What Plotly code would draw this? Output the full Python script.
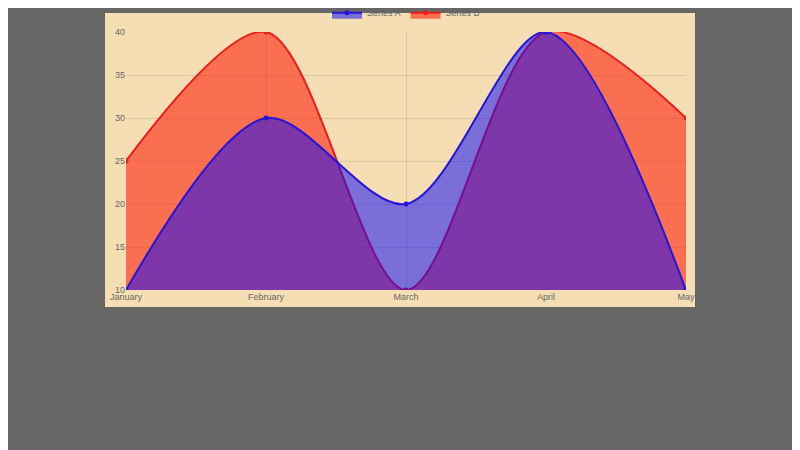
import plotly.graph_objects as go

months = ["January", "February", "March", "April", "May"]
series_a = [10, 30, 20, 40, 10]
series_b = [25, 40, 10, 40, 30]

fig = go.Figure()
fig.add_trace(go.Scatter(x=months, y=series_b, name="Series B", mode="lines+markers",
                         line=dict(color="rgb(235,30,30)", width=2, shape="spline", smoothing=0.9),
                         marker=dict(size=5, color="rgb(235,30,30)"),
                         fill="tozeroy", fillcolor="rgba(255,20,0,0.55)"))
fig.add_trace(go.Scatter(x=months, y=series_a, name="Series A", mode="lines+markers",
                         line=dict(color="rgb(40,20,215)", width=2, shape="spline", smoothing=0.9),
                         marker=dict(size=5, color="rgb(40,20,215)"),
                         fill="tozeroy", fillcolor="rgba(0,0,255,0.5)"))

OFF = 8  # page body margin
W, H = 800 - OFF, 450 - OFF
l, t = 126 - OFF, 32 - OFF
r = W - (686 - OFF)
b = H - (290 - OFF)
pw, ph = W - l - r, H - t - b
fig.add_shape(type="rect", xref="paper", yref="paper", layer="below",
              x0=(105 - 126) / pw, x1=(695 - 126) / pw, y0=(290 - 307) / ph, y1=(290 - 13) / ph,
              fillcolor="#f5deb3", line=dict(width=0))

fig.update_layout(
    width=W, height=H, margin=dict(l=l, r=r, t=t, b=b, autoexpand=False),
    paper_bgcolor="#666666", plot_bgcolor="rgba(0,0,0,0)",
    font=dict(family="Liberation Sans, Arial", size=9, color="#666"),
    showlegend=True, legend_traceorder="reversed",
    legend=dict(orientation="h", x=0.5, xanchor="center", y=1.075, yanchor="middle",
                font=dict(size=9, color="#666"), bgcolor="rgba(0,0,0,0)"),
    xaxis=dict(range=[0, 4], showgrid=True, gridcolor="rgba(0,0,0,0.1)", zeroline=False,
               ticks="", tickfont=dict(size=9, color="#666")),
    yaxis=dict(range=[10, 40], dtick=5, showgrid=True, gridcolor="rgba(0,0,0,0.1)",
               zeroline=False, tickfont=dict(size=9, color="#666")),
)
fig.write_html("out.html")
